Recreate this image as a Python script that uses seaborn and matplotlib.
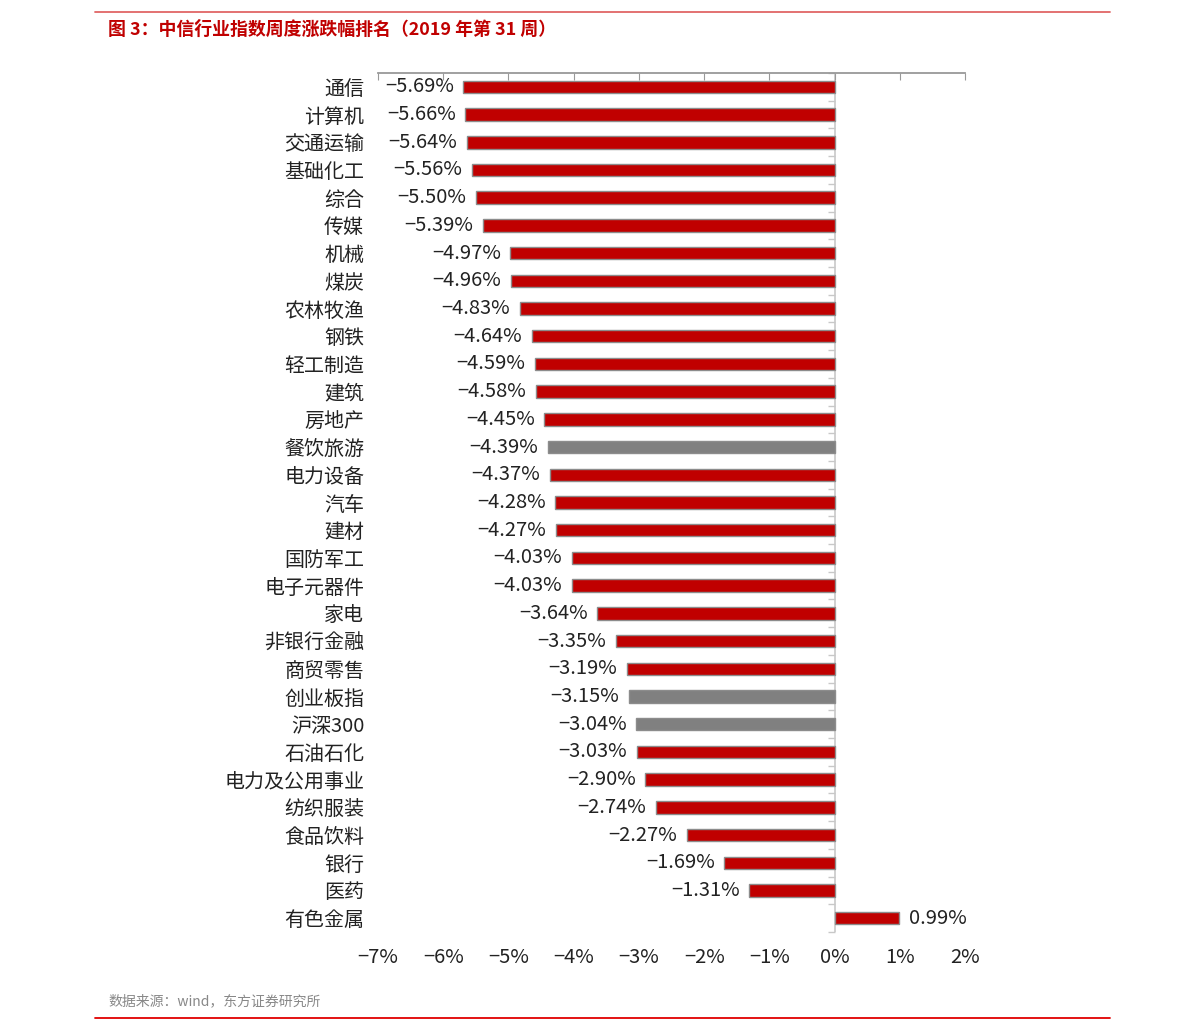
import numpy as np
import pandas as pd
import matplotlib.pyplot as plt
import seaborn as sns

# data
industries = ['通信', '计算机', '交通运输', '基础化工', '综合', '传媒', '机械', '煤炭', '农林牧渔',
              '钢铁', '轻工制造', '建筑', '房地产', '餐饮旅游', '电力设备', '汽车', '建材', '国防军工',
              '电子元器件', '家电', '非银行金融', '商贸零售', '创业板指', '沪深300', '石油石化',
              '电力及公用事业', '纺织服装', '食品饮料', '银行', '医药', '有色金属']
changes = [-5.69, -5.66, -5.64, -5.56, -5.50, -5.39, -4.97, -4.96, -4.83,
           -4.64, -4.59, -4.58, -4.45, -4.39, -4.37, -4.28, -4.27, -4.03,
           -4.03, -3.64, -3.35, -3.19, -3.15, -3.04, -3.03,
           -2.90, -2.74, -2.27, -1.69, -1.31, 0.99]
highlight = ['餐饮旅游', '创业板指', '沪深300']
x_ticks = [-7, -6, -5, -4, -3, -2, -1, 0, 1, 2]

df = pd.DataFrame({'industry': industries, 'change': changes})
df['kind'] = np.where(df['industry'].isin(highlight), 'index', 'industry')

sns.set_style('white')
plt.rcParams['font.family'] = ['Noto Sans CJK JP', 'DejaVu Sans']
plt.rcParams['axes.unicode_minus'] = True

RED = '#C00000'
GRAY = '#808080'
TXT = '#222222'

fig = plt.figure(figsize=(11.91, 10.31), dpi=100)
ax = fig.add_axes([0.3174, 0.096, 0.4929, 0.8332])

sns.barplot(data=df, x='change', y='industry', hue='kind', orient='h',
            palette={'industry': RED, 'index': GRAY}, dodge=False, legend=False,
            saturation=1, width=0.45, edgecolor='#8c8c8c', linewidth=1.0, ax=ax)

ax.set_xlim(-7, 2)
ax.set_ylim(len(industries) - 0.5, -0.5)
ax.set_xlabel('')
ax.set_ylabel('')

# value labels
for i, v in enumerate(changes):
    txt = f'{v:.2f}%'.replace('-', '\u2212')
    if v < 0:
        ax.text(v - 0.15, i, txt, ha='right', va='center', fontsize=14.5, color=TXT)
    else:
        ax.text(v + 0.15, i, txt, ha='left', va='center', fontsize=14.5, color=TXT)

# x axis: ticks on top spine, labels at bottom
ax.set_xticks(x_ticks)
ax.set_xticklabels([f'{t}%'.replace('-', '\u2212') for t in x_ticks], fontsize=14.5, color=TXT)
ax.tick_params(axis='x', top=True, bottom=False, labeltop=False, labelbottom=True,
               direction='in', length=5, color='#999999', pad=11)
ax.tick_params(axis='y', length=0, labelsize=14.4, pad=10, labelcolor=TXT)

for s in ['left', 'right', 'bottom']:
    ax.spines[s].set_visible(False)
ax.spines['top'].set_color('#999999')
ax.spines['top'].set_linewidth(1.3)

# zero line with small category ticks
ax.axvline(0, color='#c8c8c8', linewidth=1.2, zorder=0)
bounds = np.arange(len(industries) + 1) - 0.5
ax.plot(np.zeros(len(bounds)), bounds, linestyle='none', marker=0, markersize=5,
        color='#c8c8c8', clip_on=False)

# title, rules and source
fig.add_artist(plt.Line2D([95 / 1191, 1110 / 1191], [1 - 12 / 1031] * 2, color='#E06666', linewidth=1.3))
fig.text(108 / 1191, 1 - 30 / 1031, '图 3：中信行业指数周度涨跌幅排名（2019 年第 31 周）',
         fontsize=12.9, fontweight='bold', color='#C00000', va='center',
         family=['Noto Sans CJK SC', 'DejaVu Sans'])
fig.text(108 / 1191, 1 - 1001 / 1031, '数据来源：wind，东方证券研究所',
         fontsize=10, color='#888888', va='center', family=['Noto Sans CJK SC', 'DejaVu Sans'])
fig.add_artist(plt.Line2D([95 / 1191, 1110 / 1191], [1 - 1018 / 1031] * 2, color='#E00000', linewidth=1.3))

fig.savefig('out.png', dpi=100)
